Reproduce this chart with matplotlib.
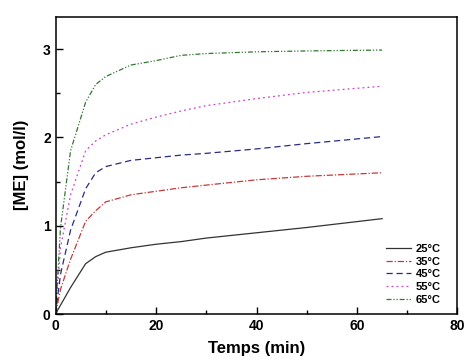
import matplotlib
matplotlib.use('Agg')
import matplotlib.pyplot as plt
from matplotlib.ticker import MultipleLocator

plt.rcParams['font.family'] = ['Liberation Sans', 'DejaVu Sans']
plt.rcParams['font.weight'] = 'bold'

# data
t = [0, 1, 3, 6, 8, 10, 15, 20, 25, 30, 40, 50, 65]
c25 = [0, 0.10, 0.30, 0.57, 0.65, 0.70, 0.75, 0.79, 0.82, 0.86, 0.92, 0.98, 1.08]
c35 = [0, 0.28, 0.62, 1.05, 1.17, 1.27, 1.35, 1.39, 1.43, 1.46, 1.52, 1.56, 1.60]
c45 = [0, 0.45, 0.95, 1.42, 1.60, 1.67, 1.74, 1.77, 1.80, 1.82, 1.87, 1.93, 2.01]
c55 = [0, 0.75, 1.35, 1.85, 1.96, 2.03, 2.15, 2.23, 2.30, 2.36, 2.44, 2.51, 2.58]
c65 = [0, 0.98, 1.85, 2.40, 2.60, 2.69, 2.82, 2.87, 2.93, 2.95, 2.97, 2.98, 2.99]
labels = ['25°C', '35°C', '45°C', '55°C', '65°C']

fig = plt.figure(figsize=(4.74, 3.64), dpi=100)
ax = fig.add_axes([55.5/474, 1 - 314/364, 402/474, 297.5/364])

ax.plot(t, c25, color='#333333', lw=0.9, ls='-', label=labels[0])
ax.plot(t, c35, color='#c43a3a', lw=0.9, ls=(0, (5, 1.5, 1, 1.5)), label=labels[1])
ax.plot(t, c45, color='#2a2a8a', lw=0.9, ls=(0, (5, 3)), label=labels[2])
ax.plot(t, c55, color='#cc44cc', lw=0.9, ls=(0, (1.5, 2.5)), label=labels[3])
ax.plot(t, c65, color='#337733', lw=0.9, ls=(0, (4, 1.5, 1, 1.5, 1, 1.5)), label=labels[4])

ax.set_xlim(0, 80)
ax.set_ylim(0, 3.37)
ax.xaxis.set_major_locator(MultipleLocator(20))
ax.xaxis.set_minor_locator(MultipleLocator(10))
ax.yaxis.set_major_locator(MultipleLocator(1))
ax.yaxis.set_minor_locator(MultipleLocator(0.5))
ax.tick_params(which='both', direction='in', labelsize=10, width=1)
ax.tick_params(which='major', length=5)
ax.tick_params(which='minor', length=3)
ax.tick_params(top=False, right=False)
for s in ax.spines.values():
    s.set_linewidth(1.1)

ax.set_xlabel('Temps (min)', fontsize=12, fontweight='bold', labelpad=6)
ax.set_ylabel('[ME] (mol/l)', fontsize=12, fontweight='bold', labelpad=10)

ax.legend(loc='lower right', frameon=False, fontsize=8, handlelength=2.3,
          handletextpad=0.4, labelspacing=0.25, borderpad=0,
          bbox_to_anchor=(0.972, 0.012))

fig.savefig('out.png', dpi=100)
